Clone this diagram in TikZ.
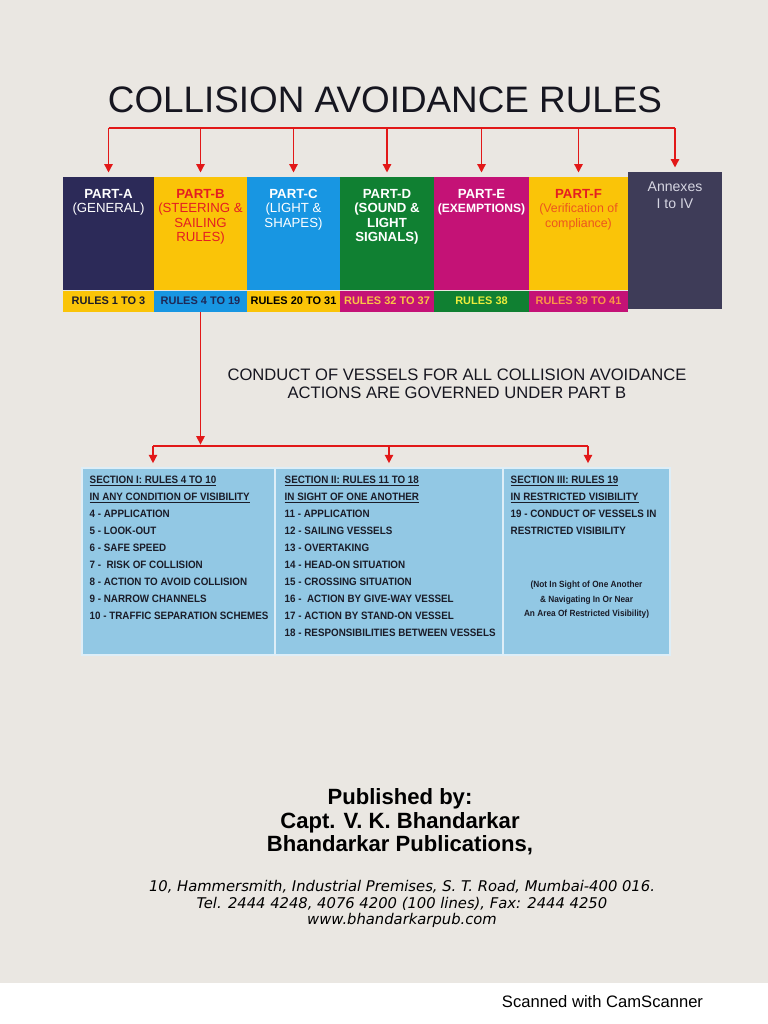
\documentclass[tikz,border=0pt]{standalone}
\usepackage{fontspec}
\setmainfont{Liberation Sans}
\newfontfamily\narrowfont{Liberation Sans}[FakeStretch=0.92]
\newfontfamily\addrfont{DejaVu Sans}
\usepackage{xcolor}
\usepackage{tikz}
\usetikzlibrary{positioning, arrows.meta}
\definecolor{Paper}{RGB}{234,231,226}
\definecolor{TitleInk}{RGB}{22,22,32}
\definecolor{ArrowRed}{RGB}{226,24,24}
\definecolor{PartNavy}{RGB}{44,42,88}
\definecolor{PartYellow}{RGB}{250,196,8}
\definecolor{PartBlue}{RGB}{24,150,226}
\definecolor{PartGreen}{RGB}{16,128,50}
\definecolor{PartMagenta}{RGB}{196,18,118}
\definecolor{AnnexGrey}{RGB}{62,60,88}
\definecolor{PartRed}{RGB}{228,30,34}
\definecolor{FOrange}{RGB}{236,86,30}
\definecolor{AnnexText}{RGB}{214,214,226}
\definecolor{RuleDark}{RGB}{28,28,40}
\definecolor{RuleNavy}{RGB}{30,40,86}
\definecolor{RuleGold}{RGB}{250,196,70}
\definecolor{RuleLime}{RGB}{236,236,60}
\definecolor{RuleOrange}{RGB}{250,150,70}
\definecolor{SecBlue}{RGB}{146,200,228}
\definecolor{SecInk}{RGB}{26,28,40}
\tikzset{
  partbox/.style={minimum height=2.825cm, inner sep=0pt, draw=none},
  rulecell/.style={minimum height=0.525cm, inner sep=0pt, font=\fontsize{7.8}{9}\selectfont\bfseries},
  partlbl/.style={anchor=north, align=center, inner sep=0pt, font=\fontsize{9.4}{10.4}\selectfont},
  secbox/.style={fill=SecBlue, draw=white!70!SecBlue, line width=0.8pt, minimum height=4.675cm, inner sep=0pt},
  sectxt/.style={anchor=north west, align=left, inner sep=0pt, text=SecInk,
    font=\narrowfont\bfseries\fontsize{7.6}{12.1}\selectfont},
  notetxt/.style={align=center, inner sep=0pt, text=SecInk,
    font=\narrowfont\bfseries\fontsize{6.4}{10.3}\selectfont},
  redarr/.style={-{Triangle[width=6pt,length=6pt]}, line width=1pt, ArrowRed, shorten >=3pt},
  redline/.style={line width=1pt, ArrowRed},
}

\begin{document}
\begin{tikzpicture}[x=0.025cm, y=-0.025cm]
  \useasboundingbox (0,0) rectangle (768,1024);
  \fill[white] (0,0) rectangle (768,1024);
  \fill[Paper] (0,0) rectangle (768,983);

  \node[font=\fontsize{26.2}{30}\selectfont, text=TitleInk] (title) at (385,100) {COLLISION AVOIDANCE RULES};

  % the seven parts
  \node[partbox, fill=PartNavy, minimum width=2.275cm] (partA) at (108.5,233.5) {};
  \node[partbox, fill=PartYellow, minimum width=2.325cm] (partB) at (200.5,233.5) {};
  \node[partbox, fill=PartBlue, minimum width=2.325cm] (partC) at (293.5,233.5) {};
  \node[partbox, fill=PartGreen, minimum width=2.35cm] (partD) at (387,233.5) {};
  \node[partbox, fill=PartMagenta, minimum width=2.375cm] (partE) at (481.5,233.5) {};
  \node[partbox, fill=PartYellow, minimum width=2.475cm] (partF) at (578.5,233.5) {};
  \node[partbox, fill=AnnexGrey, minimum width=2.35cm, minimum height=3.425cm] (annex) at (675,240.5) {};

  \node[partlbl, text=white, below=0.3cm of partA.north] (labA) {\textbf{PART-A}\\(GENERAL)};
  \node[partlbl, text=PartRed, below=0.3cm of partB.north] (labB) {\textbf{PART-B}\\(STEERING \&\\SAILING\\RULES)};
  \node[partlbl, text=white, below=0.3cm of partC.north] (labC) {\textbf{PART-C}\\(LIGHT \&\\SHAPES)};
  \node[partlbl, text=white, below=0.3cm of partD.north] (labD) {\textbf{PART-D}\\\textbf{(SOUND \&}\\\textbf{LIGHT}\\\textbf{SIGNALS)}};
  \node[partlbl, text=white, below=0.3cm of partE.north] (labE) {\textbf{PART-E}\\{\fontsize{8.6}{10.4}\selectfont\bfseries(EXEMPTIONS)}};
  \node[partlbl, text=PartRed, below=0.3cm of partF.north] (labF) {\textbf{PART-F}\\{\color{FOrange}\fontsize{8.8}{9.3}\selectfont(Verification of}\\{\color{FOrange}\fontsize{8.8}{9.3}\selectfont compliance)}};
  \node[partlbl, text=AnnexText, font=\fontsize{10}{12}\selectfont, below=0.25cm of annex.north] (labX) {Annexes\\I to IV};

  \node[rulecell, fill=PartYellow, text=RuleDark, minimum width=2.275cm, below=0pt of partA] (rulesA) {RULES 1 TO 3};
  \node[rulecell, fill=PartBlue, text=RuleNavy, minimum width=2.325cm, below=0pt of partB] (rulesB) {RULES 4 TO 19};
  \node[rulecell, fill=PartYellow, text=black, minimum width=2.325cm, below=0pt of partC] (rulesC) {RULES 20 TO 31};
  \node[rulecell, fill=PartMagenta, text=RuleGold, minimum width=2.35cm, below=0pt of partD] (rulesD) {RULES 32 TO 37};
  \node[rulecell, fill=PartGreen, text=RuleLime, minimum width=2.375cm, below=0pt of partE] (rulesE) {RULES 38};
  \node[rulecell, fill=PartMagenta, text=RuleOrange, minimum width=2.475cm, below=0pt of partF] (rulesF) {RULES 39 TO 41};

  % bracket from the title down to every part
  \coordinate (busL) at (108.5,128);
  \coordinate (busR) at (675,128);
  \draw[redline] (busL) -- (busR);
  \draw[redarr] (busL) -- (partA.north);
  \draw[redarr] (partB.north |- busL) -- (partB.north);
  \draw[redarr] (partC.north |- busL) -- (partC.north);
  \draw[redarr] (partD.north |- busL) -- (partD.north);
  \draw[redarr] (partE.north |- busL) -- (partE.north);
  \draw[redarr] (partF.north |- busL) -- (partF.north);
  \draw[redarr] (busR) -- (annex.north);

  \node[align=center, font=\fontsize{11.8}{12.8}\selectfont, text=TitleInk] (conduct) at (457,384)
    {CONDUCT OF VESSELS FOR ALL COLLISION AVOIDANCE\\ACTIONS ARE GOVERNED UNDER PART B};

  % the three sections of part B
  \node[secbox, minimum width=4.825cm] (secI) at (178.5,561.5) {};
  \node[secbox, minimum width=5.7cm] (secII) at (389,561.5) {};
  \node[secbox, minimum width=4.175cm] (secIII) at (586.5,561.5) {};

  \coordinate (splitL) at (153,446);
  \coordinate (splitR) at (588,446);
  \draw[redarr, shorten >=1pt] (rulesB.south) -- (rulesB.south |- splitL);
  \draw[redline] (splitL) -- (splitR);
  \draw[redarr] (splitL) -- (splitL |- secI.north);
  \draw[redarr] (secII.north |- splitL) -- (secII.north);
  \draw[redarr] (splitR) -- (splitR |- secIII.north);

  \node[sectxt, below right=0.2cm and 0.2cm of secI.north west] (txtI)
    {\underline{SECTION I: RULES 4 TO 10}\\\underline{IN ANY CONDITION OF VISIBILITY}\\4 - APPLICATION\\5 - LOOK-OUT\\6 - SAFE SPEED\\7 -\ \ RISK OF COLLISION\\8 - ACTION TO AVOID COLLISION\\9 - NARROW CHANNELS\\10 - TRAFFIC SEPARATION SCHEMES};
  \node[sectxt, below right=0.2cm and 0.25cm of secII.north west] (txtII)
    {\underline{SECTION II: RULES 11 TO 18}\\\underline{IN SIGHT OF ONE ANOTHER}\\11 - APPLICATION\\12 - SAILING VESSELS\\13 - OVERTAKING\\14 - HEAD-ON SITUATION\\15 - CROSSING SITUATION\\16 -\ \ ACTION BY GIVE-WAY VESSEL\\17 - ACTION BY STAND-ON VESSEL\\18 - RESPONSIBILITIES BETWEEN VESSELS};
  \node[sectxt, below right=0.2cm and 0.2cm of secIII.north west] (txtIII)
    {\underline{SECTION III: RULES 19}\\\underline{IN RESTRICTED VISIBILITY}\\19 - CONDUCT OF VESSELS IN\\RESTRICTED VISIBILITY};
  \node[notetxt] (noteIII) at ([yshift=-0.96cm]secIII.center)
    {(Not In Sight of One Another\\\& Navigating In Or Near\\An Area Of Restricted Visibility)};

  % publisher
  \node[align=center, text=black, font=\bfseries\fontsize{15.7}{16.8}\selectfont] (pub) at (400,822)
    {Published by:\\Capt. V. K. Bhandarkar\\Bhandarkar Publications,};
  \node[align=center, text=black, font=\addrfont\itshape\fontsize{10.5}{11.7}\selectfont] (addr) at (402,904)
    {10, Hammersmith, Industrial Premises, S. T. Road, Mumbai-400 016.\\Tel. 2444 4248, 4076 4200 (100 lines), Fax: 2444 4250\\www.bhandarkarpub.com};

  \node[anchor=west, text=black, font=\fontsize{11.8}{14}\selectfont] (scan) at (497,1002) {Scanned with CamScanner};
\end{tikzpicture}
\end{document}
